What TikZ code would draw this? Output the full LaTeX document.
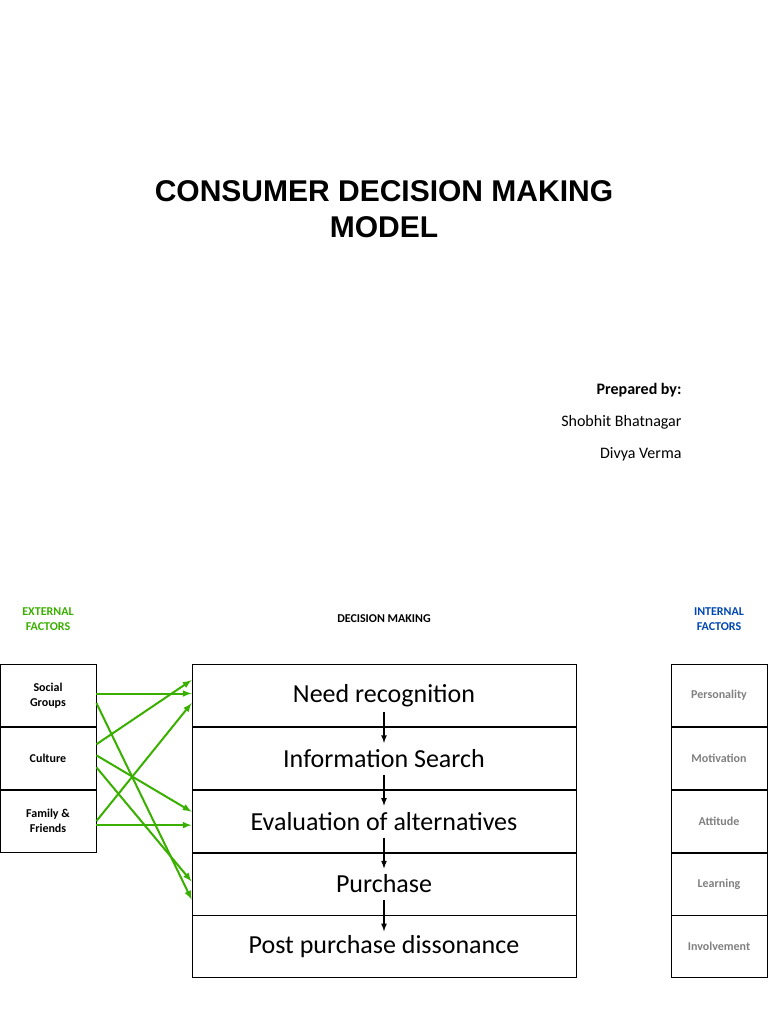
\documentclass[tikz,border=0pt]{standalone}
\usepackage{fontspec}
\setmainfont{Carlito}
\newfontfamily\arialfont{Liberation Sans}
\usetikzlibrary{positioning}

\tikzset{
  factorbox/.style={draw, thick, minimum width=96pt, minimum height=62pt, inner sep=0pt, align=center, font=\fontsize{12}{15}\selectfont\bfseries},
  stagebox/.style={draw, thick, minimum width=384pt, minimum height=62pt, inner sep=0pt, font=\fontsize{26}{30}\selectfont},
  greenarrow/.style={draw=green!55!black!70!lime, line width=2pt, -latex},
  stagearrow/.style={line width=1.6pt, -latex},
}

\begin{document}
\begin{tikzpicture}[x=1pt, y=-1pt]
    \useasboundingbox (0,0) rectangle (768,1024);

    % Title and authors
    \node[font=\arialfont\fontsize{30}{36}\selectfont\bfseries, align=center] (title) at (384,209) {CONSUMER DECISION MAKING\\MODEL};
    \node[font=\fontsize{16}{20}\selectfont\bfseries, anchor=east] (prep) at (685,390) {Prepared by:};
    \node[font=\fontsize{16}{20}\selectfont, anchor=east] (auth1) at (685,422) {Shobhit Bhatnagar};
    \node[font=\fontsize{16}{20}\selectfont, anchor=east] (auth2) at (685,454) {Divya Verma};

    % Headings
    \node[font=\fontsize{12}{15}\selectfont\bfseries, text=green!55!black!70!lime, align=center] (exthead) at (48,619) {EXTERNAL\\FACTORS};
    \node[font=\fontsize{12}{15}\selectfont\bfseries] (dechead) at (384,619) {DECISION MAKING};
    \node[font=\fontsize{12}{15}\selectfont\bfseries, text=blue!60!cyan!70!black, align=center] (inthead) at (719,619) {INTERNAL\\FACTORS};

    % External factors
    \node[factorbox] (social) at (48,695.5) {Social\\Groups};
    \node[factorbox, below=0pt of social] (culture) {Culture};
    \node[factorbox, below=0pt of culture] (family) {Family \&\\Friends};

    % Decision stages
    \node[stagebox] (need) at (384,695.5) {Need recognition};
    \node[stagebox, below=0pt of need] (search) {Information Search};
    \node[stagebox, below=0pt of search] (eval) {Evaluation of alternatives};
    \node[stagebox, below=0pt of eval] (purchase) {Purchase};
    \node[stagebox, below=0pt of purchase] (post) {Post purchase dissonance};

    % Internal factors
    \node[factorbox, text=black!50] (person) at (719,695.5) {Personality};
    \node[factorbox, text=black!50, below=0pt of person] (motiv) {Motivation};
    \node[factorbox, text=black!50, below=0pt of motiv] (attit) {Attitude};
    \node[factorbox, text=black!50, below=0pt of attit] (learn) {Learning};
    \node[factorbox, text=black!50, below=0pt of learn] (involve) {Involvement};

    % Stage arrows
    \foreach \a/\b in {need/search, search/eval, eval/purchase, purchase/post}
        \draw[stagearrow] ([yshift=15pt]\a.south) -- ([yshift=-16pt]\b.north);

    % Influence arrows
    \draw[greenarrow] ([yshift=2pt]social.east) -- ([yshift=2pt]need.west);
    \draw[greenarrow] ([yshift=-7.5pt]social.east) -- ([yshift=-47pt]purchase.north west);
    \draw[greenarrow] ([yshift=14pt]culture.east) -- ([yshift=-16pt]need.north west);
    \draw[greenarrow] ([yshift=3pt]culture.east) -- ([yshift=-22pt]eval.north west);
    \draw[greenarrow] ([yshift=-9pt]culture.east) -- ([yshift=-29pt]purchase.north west);
    \draw[greenarrow] (family.east) -- ([yshift=-39pt]need.north west);
    \draw[greenarrow] ([yshift=-4pt]family.east) -- ([yshift=-4pt]eval.west);
\end{tikzpicture}
\end{document}
